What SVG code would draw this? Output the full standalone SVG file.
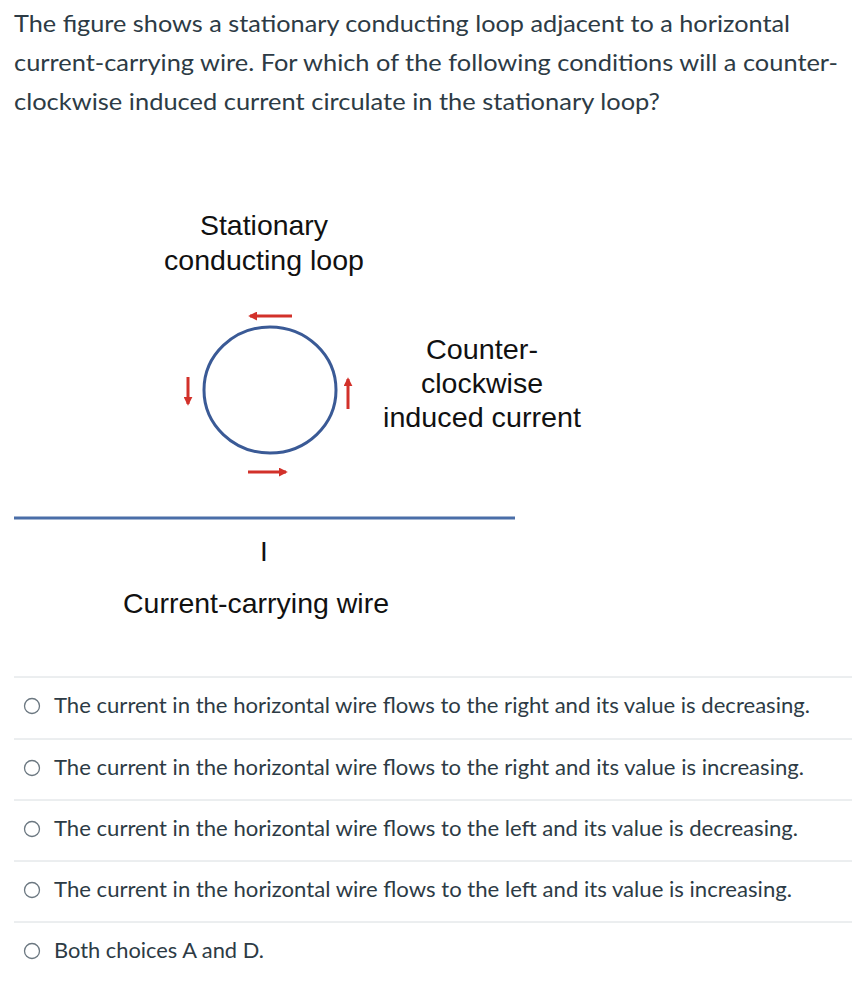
<svg xmlns="http://www.w3.org/2000/svg" width="852" height="1006" viewBox="0 0 852 1006">
<style>
.q{font-family:Lato,"Liberation Sans",sans-serif;font-size:24px;fill:#2d3b45}
.o{font-family:Lato,"Liberation Sans",sans-serif;font-size:21.5px;fill:#2d3b45}
.f{font-family:"Liberation Sans",Arial,sans-serif;font-size:28px;fill:#111}
.sep{stroke:#d8dde0;stroke-width:1}
.rad{fill:#fff;stroke:#6b7780;stroke-width:1.3}
.ar{stroke:#d2312a;stroke-width:3;marker-end:url(#ah)}
</style>
<defs><marker id="ah" viewBox="0 0 10 10" refX="8" refY="5" markerWidth="3" markerHeight="3" orient="auto"><path d="M0,0L10,5L0,10z" fill="#d2312a"/></marker></defs>
<rect width="852" height="1006" fill="#fff"/>
<text class="q" x="14" y="32" textLength="776" lengthAdjust="spacingAndGlyphs">The figure shows a stationary conducting loop adjacent to a horizontal</text>
<text class="q" x="14" y="71" textLength="824" lengthAdjust="spacingAndGlyphs">current-carrying wire. For which of the following conditions will a counter-</text>
<text class="q" x="14" y="110" textLength="646" lengthAdjust="spacingAndGlyphs">clockwise induced current circulate in the stationary loop?</text>
<g id="loop"><ellipse cx="270" cy="390" rx="66" ry="63" fill="none" stroke="#3a5a96" stroke-width="3"/></g>
<g id="connectors">
<line class="ar" x1="292" y1="316" x2="250" y2="316"/>
<line class="ar" x1="188" y1="377" x2="188" y2="404"/>
<line class="ar" x1="348" y1="409" x2="348" y2="379"/>
<line class="ar" x1="248" y1="472" x2="286" y2="472"/>
</g>
<g id="wire"><line x1="14" y1="518" x2="515" y2="518" stroke="#4a6ea8" stroke-width="3"/></g>
<g id="labels">
<text class="f" x="264" y="235" text-anchor="middle" textLength="128" lengthAdjust="spacingAndGlyphs">Stationary</text>
<text class="f" x="264" y="270" text-anchor="middle" textLength="200" lengthAdjust="spacingAndGlyphs">conducting loop</text>
<text class="f" x="482" y="359" text-anchor="middle" textLength="112" lengthAdjust="spacingAndGlyphs">Counter-</text>
<text class="f" x="482" y="393" text-anchor="middle" textLength="122" lengthAdjust="spacingAndGlyphs">clockwise</text>
<text class="f" x="482" y="427" text-anchor="middle" textLength="198" lengthAdjust="spacingAndGlyphs">induced current</text>
<text class="f" x="264" y="561" text-anchor="middle">I</text>
<text class="f" x="256" y="613" text-anchor="middle" textLength="266" lengthAdjust="spacingAndGlyphs">Current-carrying wire</text>
</g>
<g id="options">
<line class="sep" x1="14" y1="677" x2="852" y2="677"/>
<circle class="rad" cx="32" cy="706" r="7.5"/><text class="o" x="54" y="713" textLength="756" lengthAdjust="spacingAndGlyphs">The current in the horizontal wire flows to the right and its value is decreasing.</text>
<line class="sep" x1="14" y1="739" x2="852" y2="739"/>
<circle class="rad" cx="32" cy="768" r="7.5"/><text class="o" x="54" y="775" textLength="750" lengthAdjust="spacingAndGlyphs">The current in the horizontal wire flows to the right and its value is increasing.</text>
<line class="sep" x1="14" y1="800" x2="852" y2="800"/>
<circle class="rad" cx="32" cy="829" r="7.5"/><text class="o" x="54" y="836" textLength="744" lengthAdjust="spacingAndGlyphs">The current in the horizontal wire flows to the left and its value is decreasing.</text>
<line class="sep" x1="14" y1="861" x2="852" y2="861"/>
<circle class="rad" cx="32" cy="890" r="7.5"/><text class="o" x="54" y="897" textLength="738" lengthAdjust="spacingAndGlyphs">The current in the horizontal wire flows to the left and its value is increasing.</text>
<line class="sep" x1="14" y1="922" x2="852" y2="922"/>
<circle class="rad" cx="32" cy="951" r="7.5"/><text class="o" x="54" y="958" textLength="210" lengthAdjust="spacingAndGlyphs">Both choices A and D.</text>
</g>
</svg>
